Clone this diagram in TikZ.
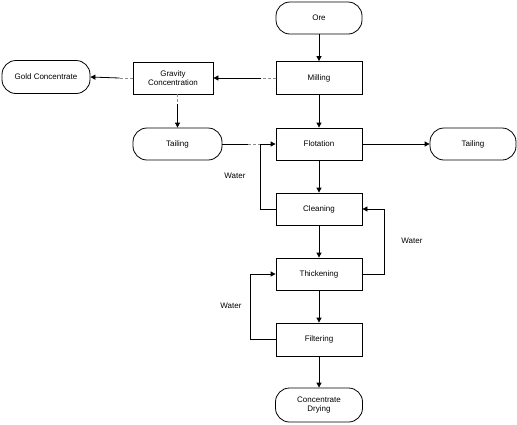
\documentclass[tikz,border=0pt]{standalone}
\usepackage{fontspec}
\setmainfont{Liberation Sans}
\usetikzlibrary{arrows.meta,calc}
\begin{document}
\begin{tikzpicture}[x=1pt,y=-1pt,
  every node/.style={font=\fontsize{8}{9.5}\selectfont},
  proc/.style={draw,line width=0.8pt,minimum width=86pt,minimum height=33pt,inner sep=0pt,align=center},
  term/.style={draw,line width=0.8pt,rounded corners=14pt,minimum width=86pt,minimum height=32pt,inner sep=0pt,align=center},
  flow/.style={line width=0.8pt,-{Triangle[length=5pt,width=5pt]}},
  plain/.style={line width=0.8pt},
  dd/.style={line width=0.8pt,black!45,dash pattern=on 3pt off 2pt},
  lbl/.style={inner sep=0pt}
]
\useasboundingbox (0,0) rectangle (517,424);
\node[term] (ore) at (319,18) {Ore};
\node[proc] (mill) at (319,78) {Milling};
\node[proc,minimum width=80pt,minimum height=32pt] (grav) at (173,78) {Gravity\\Concentration};
\node[term,minimum width=88pt,minimum height=33pt] (gold) at (46,77) {Gold Concentrate};
\node[term,minimum width=89pt] (tailL) at (177.5,144) {Tailing};
\node[proc,minimum height=32pt] (flot) at (319,144) {Flotation};
\node[term,minimum width=86pt] (tailR) at (473,144) {Tailing};
\node[proc,minimum height=32pt] (clean) at (319,209) {Cleaning};
\node[proc,minimum height=32pt] (thick) at (319,274) {Thickening};
\node[proc] (filt) at (319,339.5) {Filtering};
\node[term,minimum width=87pt,minimum height=34pt] (dry) at (319,405) {Concentrate\\Drying};
\coordinate (j) at (260,144);
\coordinate (m1) at ($(mill.west)+(-15,0)$);
\coordinate (g1) at ($(grav.west)+(-13,0)$);
\coordinate (g2) at ($(grav.south -| tailL.north)+(0,10)$);
\coordinate (t1) at (248,144);
\node[lbl] (w1) at (235,176) {Water};
\node[lbl] (w2) at (412,241) {Water};
\node[lbl] (w3) at (231,306) {Water};

\draw[flow] (ore) -- (mill);
\draw[dd] (mill.west) -- (m1);
\draw[flow] (m1) -- (grav.east);
\draw[dd] (grav.west) -- (g1);
\draw[flow] (g1) -- (gold.east);
\draw[dd] (grav.south -| tailL.north) -- (g2);
\draw[flow] (g2) -- (tailL.north);
\draw[plain] (tailL.east) -- (t1);
\draw[dd] (t1) -- (j);
\draw[flow] (j) -- (flot.west);
\draw[flow] (mill) -- (flot);
\draw[flow] (flot.east) -- (tailR.west);
\draw[flow] (flot) -- (clean);
\draw[plain] (clean.west) -| (j);
\draw[flow] (clean) -- (thick);
\draw[flow] (thick.east) -- ++(22,0) |- (clean.east);
\draw[flow] (thick) -- (filt);
\draw[flow] (filt.west) -- ++(-25,0) |- (thick.west);
\draw[flow] (filt) -- (dry);
\end{tikzpicture}
\end{document}
